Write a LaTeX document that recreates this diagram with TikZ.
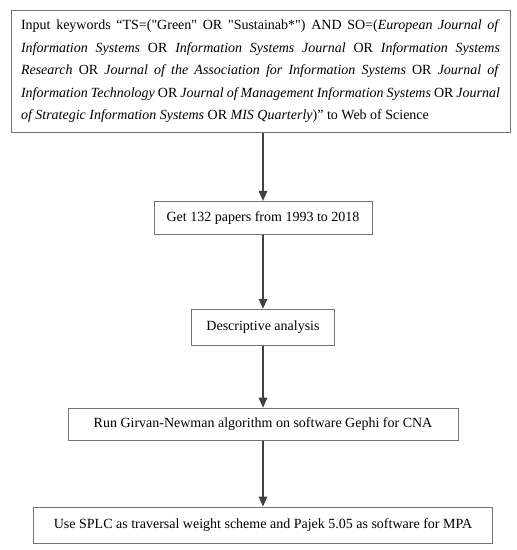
\documentclass[tikz,border=0pt]{standalone}
\usepackage{fontspec}
\setmainfont{Liberation Serif}
\usetikzlibrary{arrows.meta,positioning}

\begin{document}
\begin{tikzpicture}[x=1pt,y=1pt,
  box/.style={draw=black!55,line width=0.9pt,inner sep=0pt,align=center,font=\fontsize{14}{22.5}\selectfont},
  flow/.style={draw=black!75,line width=1.4pt,-{Triangle[length=10pt,width=8.5pt]}}]
\useasboundingbox (0,0) rectangle (517,-550);
\node[box,anchor=north,minimum width=499pt,minimum height=122pt,text width=479pt,align=justify] (search) at (260.5,-10)
  {\tolerance=10000 Input keywords “TS=(\textquotedbl Green\textquotedbl{} OR \textquotedbl Sustainab*\textquotedbl) AND SO=(\textit{European Journal of}\linebreak
   \textit{Information Systems} OR \textit{Information Systems Journal} OR \textit{Information Systems}\linebreak
   \textit{Research} OR \textit{Journal of the Association for Information Systems} OR \textit{Journal of}\linebreak
   \textit{Information Technology} OR \textit{Journal of Management Information Systems} OR \textit{Journal}\linebreak
   \textit{of Strategic Information Systems} OR \textit{MIS Quarterly})” to Web of Science};
\node[box,below=68pt of search,xshift=2.5pt,minimum width=218pt,minimum height=33pt] (papers) {Get 132 papers from 1993 to 2018};
\node[box,below=74pt of papers,minimum width=143pt,minimum height=36pt] (descr) {Descriptive analysis};
\node[box,below=62pt of descr,minimum width=390pt,minimum height=32pt] (cna) {Run Girvan-Newman algorithm on software Gephi for CNA};
\node[box,below=66pt of cna,minimum width=459pt,minimum height=36pt] (mpa) {Use SPLC as traversal weight scheme and Pajek 5.05 as software for MPA};
\draw[flow] (search.south -| papers) -- (papers);
\draw[flow] (papers) -- (descr);
\draw[flow] (descr) -- (cna);
\draw[flow] (cna) -- (mpa);
\end{tikzpicture}
\end{document}
